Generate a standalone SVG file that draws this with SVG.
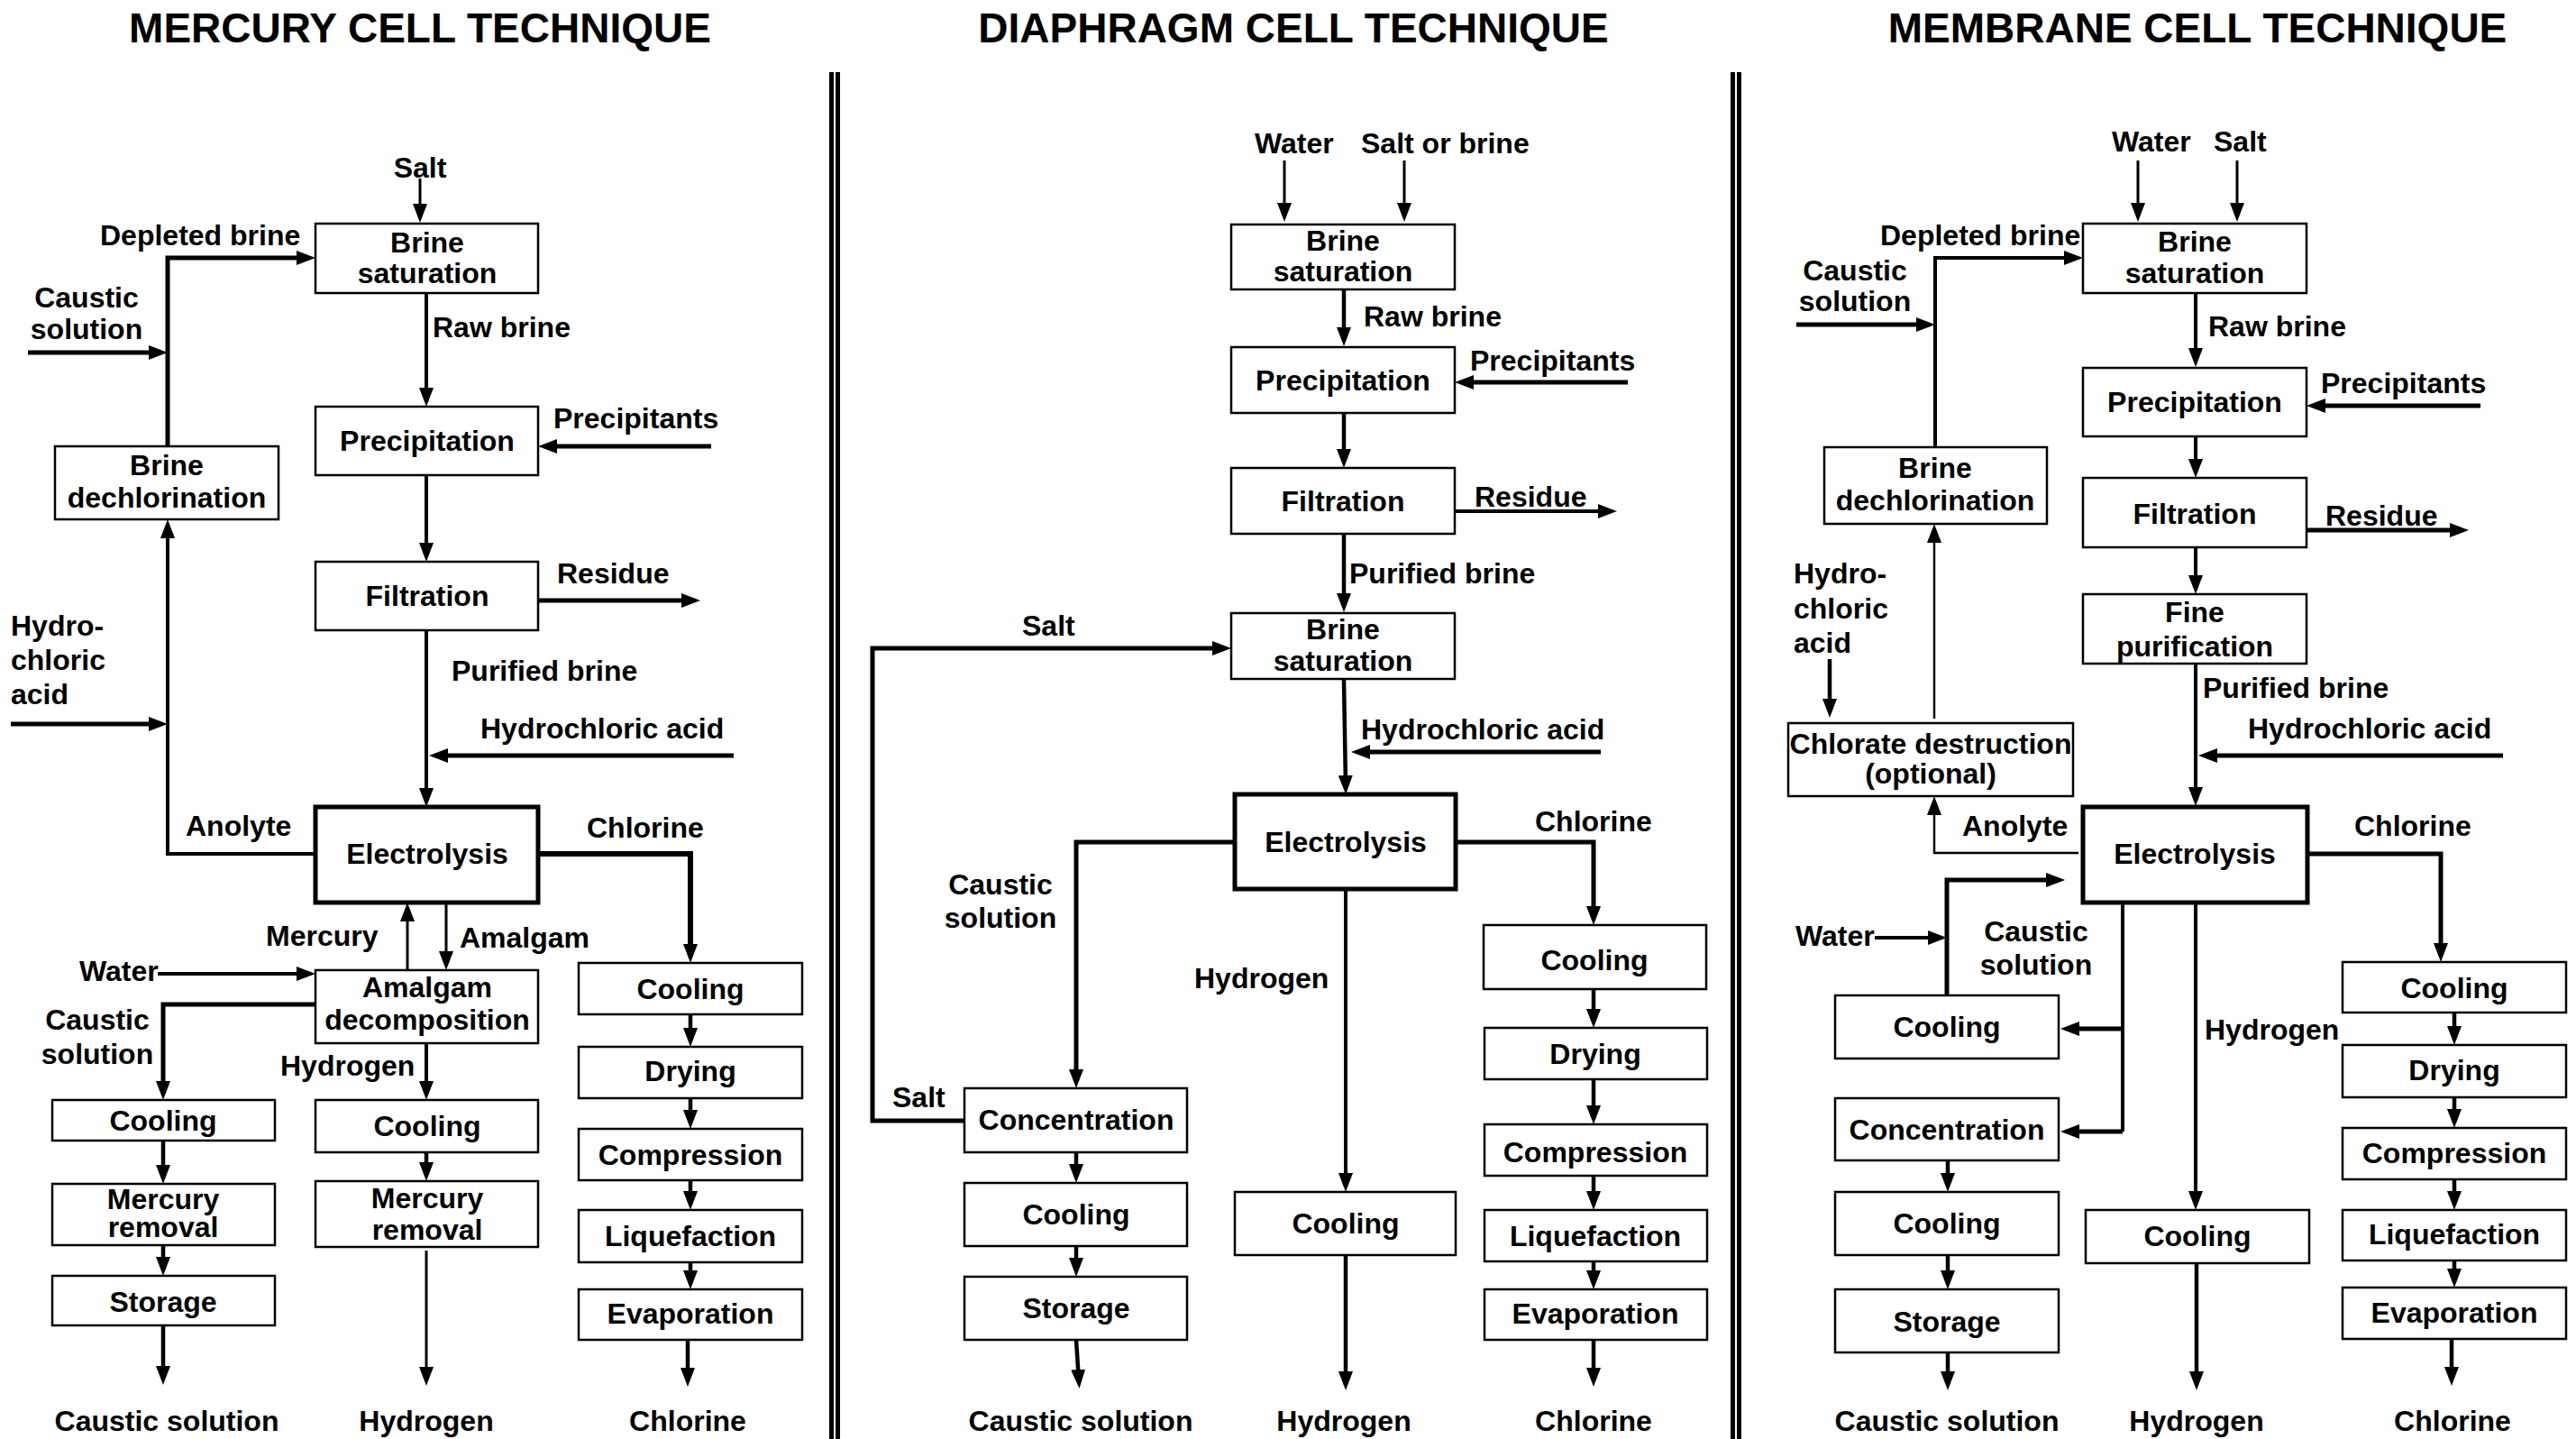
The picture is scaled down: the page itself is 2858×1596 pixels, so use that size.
<svg xmlns="http://www.w3.org/2000/svg" width="2858" height="1596" viewBox="0 0 2858 1596">
<style>
.bg{fill:#fff}
.box{fill:#fff;stroke:#000;stroke-width:2.5}
.thick{stroke-width:5}
text{font-family:"Liberation Sans",Arial,Helvetica,sans-serif;font-weight:bold;font-size:32px;fill:#000}
.c{text-anchor:middle}
.title{font-size:46px;text-anchor:middle}
.ln{fill:none;stroke:#000;stroke-width:4;stroke-linejoin:miter}
.w2{stroke-width:2.5}
.ws{stroke-width:3}
.w3{stroke-width:4.5}
.w5{stroke-width:5}
.w6{stroke-width:6}
.div{fill:#000}
</style>
<defs>
<marker id="ah" markerUnits="userSpaceOnUse" markerWidth="21" markerHeight="16" refX="13" refY="8" orient="auto">
<path d="M0,0 L21,8 L0,16 z" fill="#000"/>
</marker>
</defs>
<rect class="bg" x="0" y="0" width="2858" height="1596"/>

<g id="titles">
<text class="title" x="466" y="47">MERCURY CELL TECHNIQUE</text>
<text class="title" x="1435" y="47">DIAPHRAGM CELL TECHNIQUE</text>
<text class="title" x="2438" y="47">MEMBRANE CELL TECHNIQUE</text>
</g>

<g id="dividers">
<rect class="div" x="920" y="80" width="5" height="1516"/>
<rect class="div" x="927" y="80" width="5" height="1516"/>
<rect class="div" x="1920" y="80" width="5" height="1516"/>
<rect class="div" x="1927" y="80" width="5" height="1516"/>
</g>

<g id="connectors">
<path class="ln ws" d="M466,198 V239" marker-end="url(#ah)"/>
<path class="ln w5" d="M186,495 V286 H342" marker-end="url(#ah)"/>
<path class="ln w5" d="M31,391 H178" marker-end="url(#ah)"/>
<path class="ln" d="M473,325 V443" marker-end="url(#ah)"/>
<path class="ln w5" d="M789,495 H605" marker-end="url(#ah)"/>
<path class="ln" d="M473,527 V615" marker-end="url(#ah)"/>
<path class="ln w5" d="M597,666 H769" marker-end="url(#ah)"/>
<path class="ln" d="M473,699 V887" marker-end="url(#ah)"/>
<path class="ln w5" d="M814,838 H484" marker-end="url(#ah)"/>
<path class="ln" d="M350,947 H186 V584" marker-end="url(#ah)"/>
<path class="ln w5" d="M12,803 H178" marker-end="url(#ah)"/>
<path class="ln w6" d="M597,947 H766 V1060" marker-end="url(#ah)"/>
<path class="ln ws" d="M452,1076 V1009" marker-end="url(#ah)"/>
<path class="ln ws" d="M495,1001 V1068" marker-end="url(#ah)"/>
<path class="ln" d="M175,1080 H342" marker-end="url(#ah)"/>
<path class="ln w5" d="M350,1114 H181 V1212" marker-end="url(#ah)"/>
<path class="ln" d="M473,1157 V1212" marker-end="url(#ah)"/>
<path class="ln w3" d="M181,1265 V1305" marker-end="url(#ah)"/>
<path class="ln w3" d="M181,1381 V1407" marker-end="url(#ah)"/>
<path class="ln w3" d="M181,1470 V1528" marker-end="url(#ah)"/>
<path class="ln w3" d="M473,1278 V1302" marker-end="url(#ah)"/>
<path class="ln ws" d="M473,1387 V1529" marker-end="url(#ah)"/>
<path class="ln w3" d="M766,1125 V1153" marker-end="url(#ah)"/>
<path class="ln w3" d="M766,1218 V1244" marker-end="url(#ah)"/>
<path class="ln w3" d="M766,1309 V1334" marker-end="url(#ah)"/>
<path class="ln w3" d="M766,1400 V1422" marker-end="url(#ah)"/>
<path class="ln w3" d="M763,1486 V1530" marker-end="url(#ah)"/>
<path class="ln ws" d="M1425,178 V238" marker-end="url(#ah)"/>
<path class="ln ws" d="M1558,178 V238" marker-end="url(#ah)"/>
<path class="ln w3" d="M1491,321 V376" marker-end="url(#ah)"/>
<path class="ln w5" d="M1806,424 H1622" marker-end="url(#ah)"/>
<path class="ln w3" d="M1491,458 V511" marker-end="url(#ah)"/>
<path class="ln" d="M1614,567 H1786" marker-end="url(#ah)"/>
<path class="ln w3" d="M1491,592 V671" marker-end="url(#ah)"/>
<path class="ln w5" d="M1070,1243 H968 V719 H1358" marker-end="url(#ah)"/>
<path class="ln w5" d="M1776,834 H1507" marker-end="url(#ah)"/>
<path class="ln w3" d="M1491,753 L1493,873" marker-end="url(#ah)"/>
<path class="ln w5" d="M1615,934 H1768 V1018" marker-end="url(#ah)"/>
<path class="ln w5" d="M1370,934 H1194 V1199" marker-end="url(#ah)"/>
<path class="ln" d="M1493,986 V1314" marker-end="url(#ah)"/>
<path class="ln w3" d="M1768,1097 V1132" marker-end="url(#ah)"/>
<path class="ln w3" d="M1768,1197 V1239" marker-end="url(#ah)"/>
<path class="ln w3" d="M1768,1304 V1334" marker-end="url(#ah)"/>
<path class="ln w3" d="M1768,1399 V1422" marker-end="url(#ah)"/>
<path class="ln w3" d="M1768,1486 V1530" marker-end="url(#ah)"/>
<path class="ln w3" d="M1194,1278 V1304" marker-end="url(#ah)"/>
<path class="ln w3" d="M1194,1382 V1408" marker-end="url(#ah)"/>
<path class="ln w3" d="M1194,1486 L1197,1532" marker-end="url(#ah)"/>
<path class="ln w3" d="M1493,1392 V1534" marker-end="url(#ah)"/>
<path class="ln ws" d="M2372,178 V238" marker-end="url(#ah)"/>
<path class="ln ws" d="M2482,178 V238" marker-end="url(#ah)"/>
<path class="ln" d="M2147,496 V286 H2303" marker-end="url(#ah)"/>
<path class="ln w5" d="M1993,360 H2139" marker-end="url(#ah)"/>
<path class="ln" d="M2436,325 V399" marker-end="url(#ah)"/>
<path class="ln w5" d="M2752,450 H2567" marker-end="url(#ah)"/>
<path class="ln" d="M2436,484 V522" marker-end="url(#ah)"/>
<path class="ln w5" d="M2559,588 H2731" marker-end="url(#ah)"/>
<path class="ln" d="M2436,607 V651" marker-end="url(#ah)"/>
<path class="ln" d="M2436,736 V886" marker-end="url(#ah)"/>
<path class="ln w5" d="M2777,838 H2447" marker-end="url(#ah)"/>
<path class="ln w3" d="M2030,731 V788" marker-end="url(#ah)"/>
<path class="ln w2" d="M2146,797 V589" marker-end="url(#ah)"/>
<path class="ln w2" d="M2306,946 H2146 V891" marker-end="url(#ah)"/>
<path class="ln w5" d="M2560,947 H2708 V1059" marker-end="url(#ah)"/>
<path class="ln w5" d="M2160,1104 V976 H2283" marker-end="url(#ah)"/>
<path class="ln" d="M2080,1040 H2152" marker-end="url(#ah)"/>
<path class="ln" d="M2355,1001 V1255"/>
<path class="ln w5" d="M2355,1141 H2294" marker-end="url(#ah)"/>
<path class="ln w5" d="M2355,1255 H2294" marker-end="url(#ah)"/>
<path class="ln" d="M2436,1001 V1334" marker-end="url(#ah)"/>
<path class="ln w3" d="M2161,1287 V1314" marker-end="url(#ah)"/>
<path class="ln w3" d="M2161,1392 V1422" marker-end="url(#ah)"/>
<path class="ln w3" d="M2161,1500 V1534" marker-end="url(#ah)"/>
<path class="ln w3" d="M2437,1401 V1534" marker-end="url(#ah)"/>
<path class="ln w3" d="M2723,1123 V1151" marker-end="url(#ah)"/>
<path class="ln w3" d="M2723,1217 V1243" marker-end="url(#ah)"/>
<path class="ln w3" d="M2723,1308 V1334" marker-end="url(#ah)"/>
<path class="ln w3" d="M2723,1398 V1420" marker-end="url(#ah)"/>
<path class="ln w3" d="M2720,1485 V1529" marker-end="url(#ah)"/>
</g>

<g id="labels">
<text class="c" x="466" y="197">Salt</text>
<text x="111" y="272">Depleted brine</text>
<text class="c" x="96" y="341">Caustic</text>
<text class="c" x="96" y="376">solution</text>
<text x="480" y="374">Raw brine</text>
<text x="614" y="475">Precipitants</text>
<text x="618" y="647">Residue</text>
<text x="12" y="705">Hydro-</text>
<text x="12" y="743">chloric</text>
<text x="12" y="781">acid</text>
<text x="501" y="755">Purified brine</text>
<text x="533" y="819">Hydrochloric acid</text>
<text x="206" y="927">Anolyte</text>
<text x="651" y="929">Chlorine</text>
<text x="295" y="1049">Mercury</text>
<text x="510" y="1051">Amalgam</text>
<text x="88" y="1088">Water</text>
<text class="c" x="108" y="1142">Caustic</text>
<text class="c" x="108" y="1180">solution</text>
<text x="311" y="1193">Hydrogen</text>
<text class="c" x="185" y="1587">Caustic solution</text>
<text class="c" x="473" y="1587">Hydrogen</text>
<text class="c" x="763" y="1587">Chlorine</text>
<text x="1392" y="170">Water</text>
<text x="1510" y="170">Salt or brine</text>
<text x="1513" y="362">Raw brine</text>
<text x="1631" y="411">Precipitants</text>
<text x="1636" y="562">Residue</text>
<text x="1497" y="647">Purified brine</text>
<text x="1134" y="705">Salt</text>
<text x="1510" y="820">Hydrochloric acid</text>
<text x="1703" y="922">Chlorine</text>
<text class="c" x="1110" y="992">Caustic</text>
<text class="c" x="1110" y="1029">solution</text>
<text x="1325" y="1096">Hydrogen</text>
<text x="990" y="1228">Salt</text>
<text class="c" x="1199" y="1587">Caustic solution</text>
<text class="c" x="1491" y="1587">Hydrogen</text>
<text class="c" x="1768" y="1587">Chlorine</text>
<text x="2343" y="168">Water</text>
<text x="2456" y="168">Salt</text>
<text x="2086" y="272">Depleted brine</text>
<text class="c" x="2058" y="311">Caustic</text>
<text class="c" x="2058" y="345">solution</text>
<text x="2450" y="373">Raw brine</text>
<text x="2575" y="436">Precipitants</text>
<text x="2580" y="583">Residue</text>
<text x="1990" y="647">Hydro-</text>
<text x="1990" y="686">chloric</text>
<text x="1990" y="724">acid</text>
<text x="2444" y="774">Purified brine</text>
<text x="2494" y="819">Hydrochloric acid</text>
<text x="2177" y="927">Anolyte</text>
<text x="2612" y="927">Chlorine</text>
<text x="1992" y="1049">Water</text>
<text class="c" x="2259" y="1044">Caustic</text>
<text class="c" x="2259" y="1081">solution</text>
<text x="2446" y="1153">Hydrogen</text>
<text class="c" x="2160" y="1587">Caustic solution</text>
<text class="c" x="2437" y="1587">Hydrogen</text>
<text class="c" x="2721" y="1587">Chlorine</text>
</g>

<g id="m_brinesat"><rect class="box" x="350" y="248" width="247" height="77"/><text class="c" x="474" y="280">Brine</text><text class="c" x="474" y="314">saturation</text></g>
<g id="m_precip"><rect class="box" x="350" y="451" width="247" height="76"/><text class="c" x="474" y="500">Precipitation</text></g>
<g id="m_filt"><rect class="box" x="350" y="623" width="247" height="76"/><text class="c" x="474" y="672">Filtration</text></g>
<g id="m_electro"><rect class="box thick" x="350" y="895" width="247" height="106"/><text class="c" x="474" y="958">Electrolysis</text></g>
<g id="m_amalgam"><rect class="box" x="350" y="1076" width="247" height="81"/><text class="c" x="474" y="1106">Amalgam</text><text class="c" x="474" y="1142">decomposition</text></g>
<g id="m_dechlor"><rect class="box" x="61" y="495" width="248" height="81"/><text class="c" x="185" y="527">Brine</text><text class="c" x="185" y="563">dechlorination</text></g>
<g id="m_cool_c"><rect class="box" x="58" y="1220" width="247" height="45"/><text class="c" x="181" y="1254">Cooling</text></g>
<g id="m_hgrem_c"><rect class="box" x="58" y="1313" width="247" height="68"/><text class="c" x="181" y="1341">Mercury</text><text class="c" x="181" y="1372">removal</text></g>
<g id="m_storage"><rect class="box" x="58" y="1415" width="247" height="55"/><text class="c" x="181" y="1455">Storage</text></g>
<g id="m_cool_h"><rect class="box" x="350" y="1220" width="247" height="58"/><text class="c" x="474" y="1260">Cooling</text></g>
<g id="m_hgrem_h"><rect class="box" x="350" y="1310" width="247" height="73"/><text class="c" x="474" y="1340">Mercury</text><text class="c" x="474" y="1375">removal</text></g>
<g id="m_cool_cl"><rect class="box" x="642" y="1068" width="248" height="57"/><text class="c" x="766" y="1108">Cooling</text></g>
<g id="m_dry"><rect class="box" x="642" y="1161" width="248" height="57"/><text class="c" x="766" y="1199">Drying</text></g>
<g id="m_comp"><rect class="box" x="642" y="1252" width="248" height="57"/><text class="c" x="766" y="1292">Compression</text></g>
<g id="m_liq"><rect class="box" x="642" y="1342" width="248" height="58"/><text class="c" x="766" y="1382">Liquefaction</text></g>
<g id="m_evap"><rect class="box" x="642" y="1430" width="248" height="56"/><text class="c" x="766" y="1468">Evaporation</text></g>

<g id="d_brinesat1"><rect class="box" x="1366" y="249" width="248" height="72"/><text class="c" x="1490" y="278">Brine</text><text class="c" x="1490" y="312">saturation</text></g>
<g id="d_precip"><rect class="box" x="1366" y="385" width="248" height="73"/><text class="c" x="1490" y="433">Precipitation</text></g>
<g id="d_filt"><rect class="box" x="1366" y="519" width="248" height="73"/><text class="c" x="1490" y="567">Filtration</text></g>
<g id="d_brinesat2"><rect class="box" x="1366" y="680" width="248" height="73"/><text class="c" x="1490" y="709">Brine</text><text class="c" x="1490" y="744">saturation</text></g>
<g id="d_electro"><rect class="box thick" x="1370" y="881" width="245" height="105"/><text class="c" x="1493" y="945">Electrolysis</text></g>
<g id="d_conc"><rect class="box" x="1070" y="1207" width="247" height="71"/><text class="c" x="1194" y="1253">Concentration</text></g>
<g id="d_cool_c"><rect class="box" x="1070" y="1312" width="247" height="70"/><text class="c" x="1194" y="1358">Cooling</text></g>
<g id="d_storage"><rect class="box" x="1070" y="1416" width="247" height="70"/><text class="c" x="1194" y="1462">Storage</text></g>
<g id="d_cool_h"><rect class="box" x="1370" y="1322" width="245" height="70"/><text class="c" x="1493" y="1368">Cooling</text></g>
<g id="d_cool_cl"><rect class="box" x="1646" y="1026" width="247" height="71"/><text class="c" x="1769" y="1076">Cooling</text></g>
<g id="d_dry"><rect class="box" x="1647" y="1140" width="247" height="57"/><text class="c" x="1770" y="1180">Drying</text></g>
<g id="d_comp"><rect class="box" x="1647" y="1247" width="247" height="57"/><text class="c" x="1770" y="1289">Compression</text></g>
<g id="d_liq"><rect class="box" x="1647" y="1342" width="247" height="57"/><text class="c" x="1770" y="1382">Liquefaction</text></g>
<g id="d_evap"><rect class="box" x="1647" y="1430" width="247" height="56"/><text class="c" x="1770" y="1468">Evaporation</text></g>

<g id="b_brinesat"><rect class="box" x="2311" y="248" width="248" height="77"/><text class="c" x="2435" y="279">Brine</text><text class="c" x="2435" y="314">saturation</text></g>
<g id="b_precip"><rect class="box" x="2311" y="408" width="248" height="76"/><text class="c" x="2435" y="457">Precipitation</text></g>
<g id="b_filt"><rect class="box" x="2311" y="530" width="248" height="77"/><text class="c" x="2435" y="581">Filtration</text></g>
<g id="b_fine"><rect class="box" x="2311" y="659" width="248" height="77"/><text class="c" x="2435" y="690">Fine</text><text class="c" x="2435" y="728">purification</text></g>
<g id="b_electro"><rect class="box thick" x="2311" y="895" width="249" height="106"/><text class="c" x="2435" y="958">Electrolysis</text></g>
<g id="b_dechlor"><rect class="box" x="2024" y="496" width="247" height="85"/><text class="c" x="2147" y="530">Brine</text><text class="c" x="2147" y="566">dechlorination</text></g>
<g id="b_chlorate"><rect class="box" x="1984" y="802" width="316" height="81"/><text class="c" x="2142" y="836">Chlorate destruction</text><text class="c" x="2142" y="869">(optional)</text></g>
<g id="b_cool1"><rect class="box" x="2036" y="1104" width="248" height="70"/><text class="c" x="2160" y="1150">Cooling</text></g>
<g id="b_conc"><rect class="box" x="2036" y="1218" width="248" height="69"/><text class="c" x="2160" y="1264">Concentration</text></g>
<g id="b_cool2"><rect class="box" x="2036" y="1322" width="248" height="70"/><text class="c" x="2160" y="1368">Cooling</text></g>
<g id="b_storage"><rect class="box" x="2036" y="1430" width="248" height="70"/><text class="c" x="2160" y="1477">Storage</text></g>
<g id="b_cool_h"><rect class="box" x="2314" y="1342" width="248" height="59"/><text class="c" x="2438" y="1382">Cooling</text></g>
<g id="b_cool_cl"><rect class="box" x="2599" y="1067" width="248" height="56"/><text class="c" x="2723" y="1107">Cooling</text></g>
<g id="b_dry"><rect class="box" x="2599" y="1159" width="248" height="58"/><text class="c" x="2723" y="1198">Drying</text></g>
<g id="b_comp"><rect class="box" x="2599" y="1251" width="248" height="57"/><text class="c" x="2723" y="1290">Compression</text></g>
<g id="b_liq"><rect class="box" x="2599" y="1342" width="248" height="56"/><text class="c" x="2723" y="1380">Liquefaction</text></g>
<g id="b_evap"><rect class="box" x="2599" y="1428" width="248" height="57"/><text class="c" x="2723" y="1467">Evaporation</text></g>
</svg>
